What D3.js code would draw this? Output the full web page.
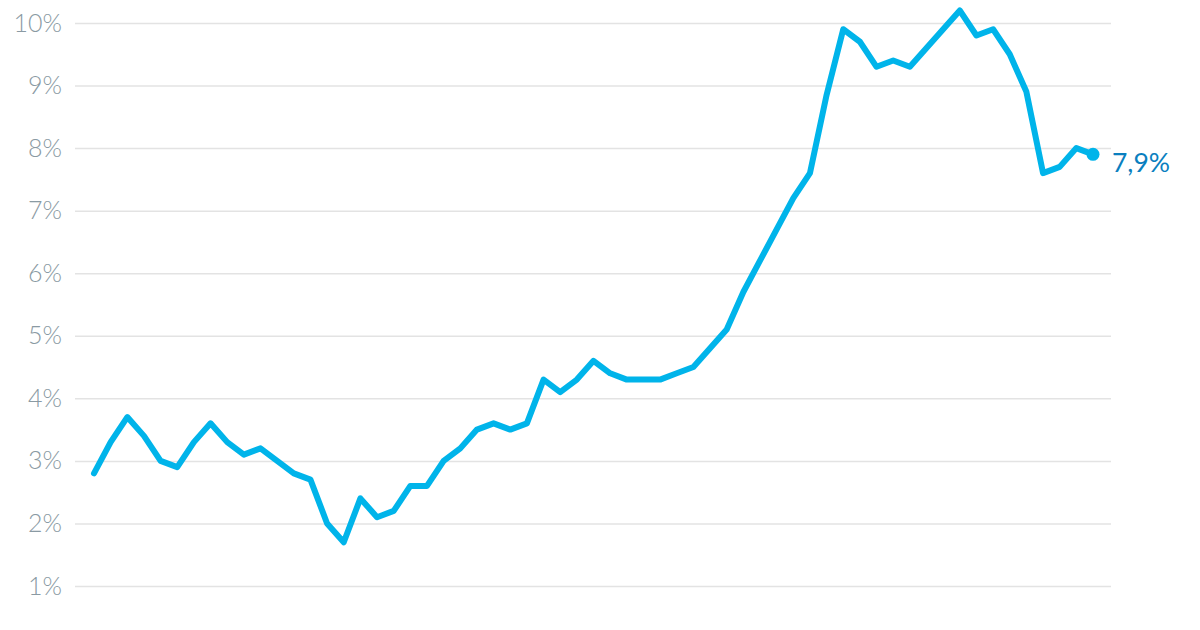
<!DOCTYPE html>
<html>
<head>
<meta charset="utf-8">
<script src="https://cdn.jsdelivr.net/npm/d3@7"></script>
<style>
  body { margin: 0; background: #fff; }
  text { font-family: Lato, "Open Sans", sans-serif; }
</style>
</head>
<body>
<script>
// monthly rate, in percent
var values = [2.8, 3.3, 3.7, 3.4, 3.0, 2.9, 3.3, 3.6, 3.3, 3.1,
              3.2, 3.0, 2.8, 2.7, 2.0, 1.7, 2.4, 2.1, 2.2, 2.6,
              2.6, 3.0, 3.2, 3.5, 3.6, 3.5, 3.6, 4.3, 4.1, 4.3,
              4.6, 4.4, 4.3, 4.3, 4.3, 4.4, 4.5, 4.8, 5.1, 5.7,
              6.2, 6.7, 7.2, 7.6, 8.85, 9.9, 9.7, 9.3, 9.4, 9.3,
              9.6, 9.9, 10.2, 9.8, 9.9, 9.5, 8.9, 7.6, 7.7, 8.0, 7.9];
var yTicks = [1, 2, 3, 4, 5, 6, 7, 8, 9, 10];
var lastLabel = "7,9%";

var width = 1200, height = 630;
var margin = {top: 23, right: 89, bottom: 44, left: 75};

var svg = d3.select("body")
    .append("svg")
        .attr("width", width)
        .attr("height", height);

var xscale = d3.scaleLinear()
    .domain([0, values.length - 1])
    .range([94, 1093]);

var yscale = d3.scaleLinear()
    .domain([1, 10])
    .range([height - margin.bottom, margin.top]);

// gridlines + labels
var yAxis = svg.append("g")
    .attr("transform", "translate(" + margin.left + ",0)")
    .call(d3.axisLeft(yscale)
        .tickValues(yTicks)
        .tickSize(-(width - margin.left - margin.right))
        .tickPadding(13)
        .tickFormat(function(d) { return d + "%"; }));

yAxis.select(".domain").remove();
yAxis.selectAll(".tick line")
    .attr("stroke", "#e3e3e3")
    .attr("stroke-width", 1.5);
yAxis.selectAll(".tick text")
    .attr("fill", "#8a9aa3")
    .style("font-size", "25px")
    .style("font-weight", 300)
    .attr("font-family", null);

var line = d3.line()
    .x(function(d, i) { return xscale(i); })
    .y(function(d) { return yscale(d); });

svg.append("path")
    .datum(values)
    .attr("fill", "none")
    .attr("stroke", "#00b4ea")
    .attr("stroke-width", 6)
    .attr("stroke-linejoin", "round")
    .attr("stroke-linecap", "round")
    .attr("d", line);

var last = values.length - 1;
svg.append("circle")
    .attr("cx", xscale(last))
    .attr("cy", yscale(values[last]))
    .attr("r", 6.5)
    .attr("fill", "#00b4ea");

svg.append("text")
    .attr("x", xscale(last) + 19)
    .attr("y", yscale(values[last]) + 18)
    .attr("fill", "#0a7fbf")
    .style("font-size", "26.5px")
    .text(lastLabel);
</script>
</body>
</html>
